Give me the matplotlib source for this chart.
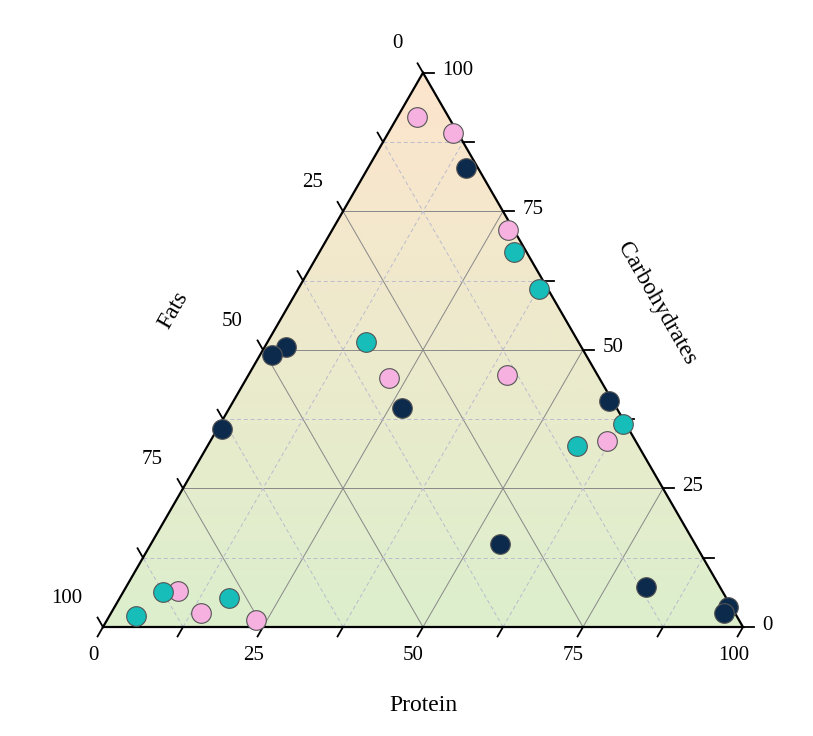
import numpy as np
import matplotlib.pyplot as plt
from matplotlib.patches import Polygon
from matplotlib.colors import LinearSegmentedColormap

plt.rcParams['font.family'] = ['Liberation Serif', 'DejaVu Serif']

# (protein, carbohydrates) per point; fats = 100 - protein - carbs
pink_p = [3.0, 10.1, 27.4, 22.3, 40.4, 62.0, 8.5, 14.0, 23.3]
pink_c = [92.1, 89.2, 71.7, 44.9, 45.4, 33.5, 6.5, 2.5, 1.3]
teal_p = [30.4, 37.6, 15.3, 63.0, 57.8, 6.2, 17.1, 4.2]
teal_c = [67.6, 60.9, 51.5, 36.6, 32.6, 6.3, 5.2, 2.0]
navy_p = [15.3, 3.3, 1.9, 26.9, 0.8, 58.7, 54.5, 81.2, 95.9, 95.8]
navy_c = [82.9, 50.6, 49.0, 39.6, 35.7, 40.7, 15.0, 7.2, 3.6, 2.5]

major = [0, 25, 50, 75, 100]
minor = [12.5, 37.5, 62.5, 87.5]
H = np.sqrt(3) / 2


def xy(p, c):
    p = np.asarray(p, float)
    c = np.asarray(c, float)
    return p + c / 2, c * H


fig = plt.figure(figsize=(8.13, 7.36), dpi=100)
ax = fig.add_axes([0, 0, 1, 1])
ax.set_xlim(-103 / 6.4, 710 / 6.4)
ax.set_ylim(-109 / 6.4, 627 / 6.4)
ax.set_aspect('equal')
ax.axis('off')

# gradient background clipped to triangle
tri = Polygon([[0, 0], [100, 0], [50, 100 * H]], closed=True, fc='none', ec='none')
ax.add_patch(tri)
cmap = LinearSegmentedColormap.from_list('bg', ['#dcefcc', '#fde5cc'])
grad = np.linspace(0, 1, 256).reshape(-1, 1)
im = ax.imshow(grad, cmap=cmap, origin='lower', extent=[0, 100, 0, 100 * H],
               aspect='auto', zorder=0)
im.set_clip_path(tri)

# grid
for v in major[1:-1] + minor:
    ls, col, lw = ('-', '#888888', 0.7) if v in major else ((0, (4, 3)), '#bbbbcc', 0.7)
    # constant carbs
    x, y = xy([0, 100 - v], [v, v]); ax.plot(x, y, ls=ls, c=col, lw=lw, zorder=1)
    # constant protein
    x, y = xy([v, v], [0, 100 - v]); ax.plot(x, y, ls=ls, c=col, lw=lw, zorder=1)
    # constant fats
    x, y = xy([100 - v, 0], [0, 100 - v]); ax.plot(x, y, ls=ls, c=col, lw=lw, zorder=1)

ax.plot([0, 100, 50, 0], [0, 0, 100 * H, 0], c='black', lw=1.6, zorder=3,
        solid_joinstyle='miter')

L = 1.7
for v in major + minor:
    # protein ticks on bottom edge, down-left
    x, y = xy(v, 0)
    ax.plot([x, x - L * 0.5], [y, y - L * H], c='black', lw=1.3, zorder=3)
    # carbs ticks on right edge, horizontal right
    x, y = xy(100 - v, v)
    ax.plot([x, x + L], [y, y], c='black', lw=1.3, zorder=3)
    # fats ticks on left edge, up-left
    x, y = xy(0, 100 - v)
    ax.plot([x, x - L * 0.5], [y, y + L * H], c='black', lw=1.3, zorder=3)

fs = 15
for v in major:
    x, y = xy(v, 0)
    ax.text(x - 1.5, y - 4.5, str(v), ha='center', va='center', fontsize=fs)
    x, y = xy(100 - v, v)
    ax.text(x + 3.0, y + 0.3, str(v), ha='left', va='center', fontsize=fs)
    x, y = xy(0, 100 - v)
    ax.text(x - 3.2, y + 4.5, str(v), ha='right', va='center', fontsize=fs)

ax.text(50, -12.3, 'Protein', ha='center', va='center', fontsize=17)
ax.text(86.5, 50.5, 'Carbohydrates', ha='center', va='center', fontsize=17, rotation=-60)
ax.text(11, 49.5, 'Fats', ha='center', va='center', fontsize=17, rotation=60)

for p, c, col in [(pink_p, pink_c, '#f6b1e1'), (teal_p, teal_c, '#16bdb9'),
                  (navy_p, navy_c, '#0c2a4b')]:
    x, y = xy(p, c)
    ax.scatter(x, y, s=200, c=col, edgecolors='#555555', linewidths=0.8, zorder=4)

fig.savefig('out.png', dpi=100)
